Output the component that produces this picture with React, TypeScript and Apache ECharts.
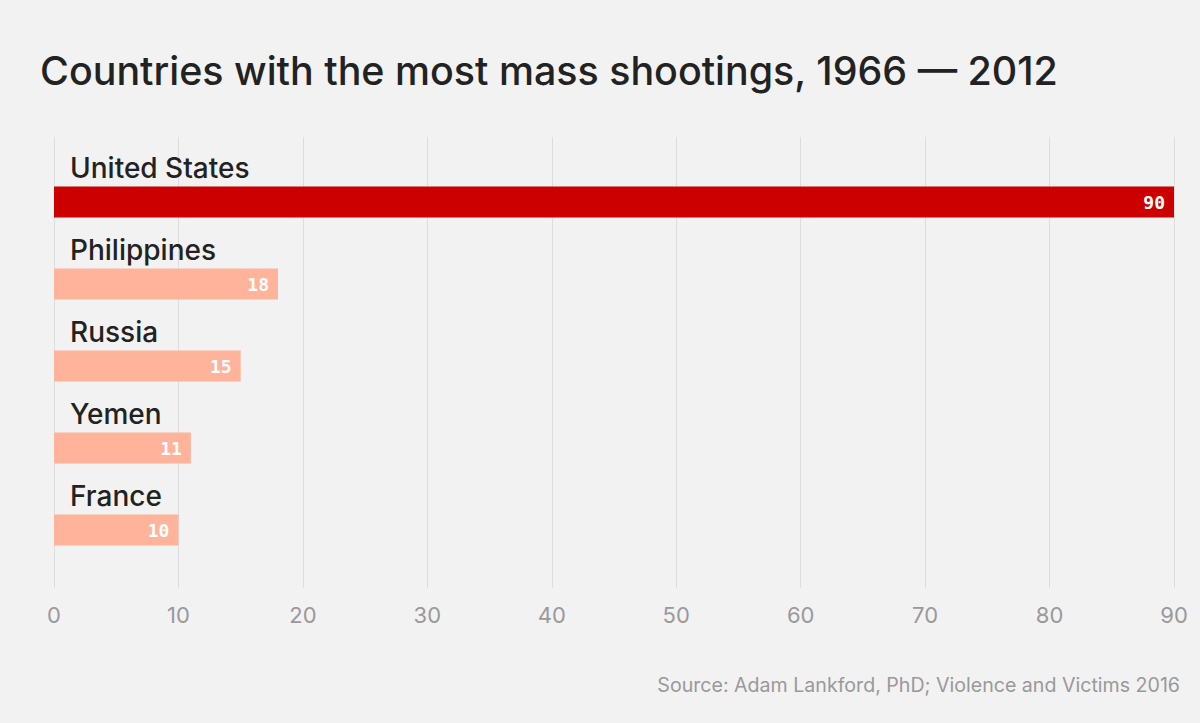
import React, { useEffect, useRef } from "react";
import * as echarts from "echarts";

const countries = ["United States", "Philippines", "Russia", "Yemen", "France"];
const shootings = [90, 18, 15, 11, 10];
const barColors = ["#cc0000", "#feb39a", "#feb39a", "#feb39a", "#feb39a"];
const xTicks = [0, 10, 20, 30, 40, 50, 60, 70, 80, 90];

const TITLE = "Countries with the most mass shootings, 1966 \u2014 2012";
const SOURCE = "Source: Adam Lankford, PhD; Violence and Victims 2016";

export default function App() {
  const ref = useRef<HTMLDivElement>(null);
  useEffect(() => {
    if (!ref.current) return;
    const chart = echarts.init(ref.current, undefined, { renderer: "svg" });
    const font = "Inter, 'Liberation Sans', Arial, sans-serif";
    chart.setOption({
      animation: false,
      backgroundColor: "#f2f2f2",
      textStyle: { fontFamily: font },
      title: [
        {
          text: TITLE,
          left: 35,
          top: 46,
          textStyle: { fontSize: 39.4, fontWeight: 500, color: "#222", fontFamily: font },
        },
        {
          text: SOURCE,
          right: 15,
          top: 670,
          textStyle: { fontSize: 19.6, fontWeight: "normal", color: "#999", fontFamily: font },
        },
      ],
      grid: [
        { left: 54, right: 26, top: 137, bottom: 135 },
        { left: 54, right: 26, top: 161, bottom: 152 },
      ],
      xAxis: [
        {
          gridIndex: 0,
          type: "value",
          min: xTicks[0],
          max: xTicks[xTicks.length - 1],
          interval: 10,
          axisLine: { show: false },
          axisTick: { show: false },
          splitLine: { show: true, lineStyle: { color: "#dddddd", width: 1 } },
          axisLabel: { color: "#999", fontSize: 22, margin: 16, fontFamily: font },
        },
        {
          gridIndex: 1,
          type: "value",
          min: xTicks[0],
          max: xTicks[xTicks.length - 1],
          show: false,
        },
      ],
      yAxis: [
        { gridIndex: 0, type: "value", show: false },
        {
          gridIndex: 1,
          type: "category",
          inverse: true,
          data: countries,
          show: false,
        },
      ],
      series: [
        {
          type: "bar",
          xAxisIndex: 1,
          yAxisIndex: 1,
          barWidth: 31,
          data: shootings.map((v, i) => ({ value: v, itemStyle: { color: barColors[i] } })),
          label: {
            show: true,
            position: "insideRight",
            distance: 9,
            color: "#fff",
            fontSize: 18,
            fontWeight: "bold",
            fontFamily: "'DejaVu Sans Mono', 'Liberation Mono', monospace",
          },
          z: 2,
        },
        {
          type: "bar",
          xAxisIndex: 1,
          yAxisIndex: 1,
          barWidth: 31,
          barGap: "-100%",
          data: shootings,
          itemStyle: { color: "rgba(0,0,0,0)" },
          label: {
            show: true,
            position: [16, -19],
            align: "left",
            verticalAlign: "middle",
            color: "#222",
            fontSize: 28,
            fontWeight: 500,
            fontFamily: font,
            formatter: (p: any) => countries[p.dataIndex],
          },
          z: 3,
        },
      ],
    });
    return () => chart.dispose();
  }, []);
  return <div ref={ref} style={{ width: 1200, height: 723, position: "absolute", left: 0, top: 0 }} />;
}
